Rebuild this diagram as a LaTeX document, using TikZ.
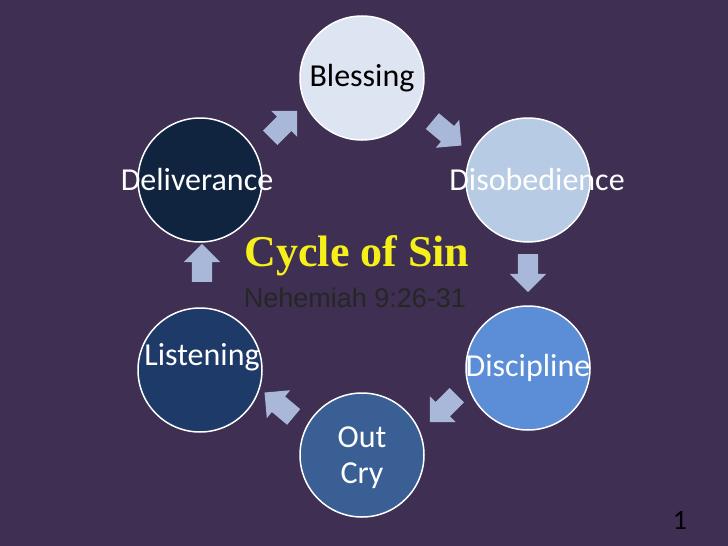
\documentclass[tikz,border=0pt]{standalone}
\usepackage{fontspec}
\setmainfont{Carlito}
\newfontfamily\timesf{Liberation Serif}
\newfontfamily\arialf{Liberation Sans}
\usetikzlibrary{shapes.arrows}
\definecolor{bg}{HTML}{3F2F52}
\definecolor{arr}{HTML}{A9B8D8}
\definecolor{cA}{HTML}{DDE5F2}
\definecolor{cB}{HTML}{B7CBE4}
\definecolor{cC}{HTML}{5B8ED6}
\definecolor{cD}{HTML}{3A5F95}
\definecolor{cE}{HTML}{1E3A68}
\definecolor{cF}{HTML}{10233F}
\definecolor{ttl}{HTML}{F5F019}
\tikzset{
 circ/.style={circle,draw=white,line width=1.5pt,minimum size=124pt,inner sep=0pt},
 lbl/.style={font=\fontsize{32}{36}\selectfont,text=white,align=center},
 blk/.style={single arrow,fill=arr,draw=none,minimum height=38pt,inner xsep=0pt,inner ysep=10pt,single arrow head extend=8pt,single arrow head indent=0pt}
}
\begin{document}
\begin{tikzpicture}[x=1pt,y=-1pt]
\fill[bg] (0,0) rectangle (728,546);
\node[circ,fill=cA] (b) at (362,78) {};
\node[circ,fill=cB] (d) at (528,180) {};
\node[circ,fill=cC] (p) at (528,368) {};
\node[circ,fill=cD] (o) at (362,455) {};
\node[circ,fill=cE] (l) at (200,370) {};
\node[circ,fill=cF] (v) at (200,180) {};
\node[lbl,text=black] at (362,78) {Blessing};
\node[lbl] at (537,180) {Disobedience};
\node[lbl] at (528,368) {Discipline};
\node[lbl] at (362,458) {Out\\Cry};
\node[lbl] at (202,357) {Listening};
\node[lbl] at (197,180) {Deliverance};
\node[blk,rotate=45] (a1) at (280,128) {};
\node[blk,rotate=-40] (a2) at (443,130) {};
\node[blk,rotate=-90] (a3) at (528,268) {};
\node[blk,rotate=-135] (a4) at (447,405) {};
\node[blk,rotate=140] (a5) at (283,408) {};
\node[blk,rotate=90] (a6) at (202,268) {};
\node[font=\timesf\bfseries\fontsize{44}{46}\selectfont,text=ttl] (t) at (357,256) {Cycle of Sin};
\node[font=\arialf\fontsize{27}{30}\selectfont,text=black!85] (n) at (355,298) {Nehemiah 9:26-31};
\node[font=\fontsize{28}{30}\selectfont,text=black] (pg) at (680,520) {1};
\end{tikzpicture}
\end{document}
